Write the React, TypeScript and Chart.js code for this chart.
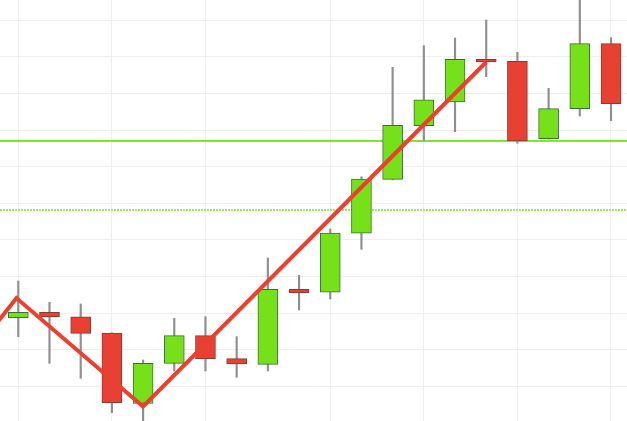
import React, { useEffect, useRef } from "react";
import { Chart, registerables } from "chart.js";

Chart.register(...registerables);

// candle index positions
const candleIdx = [0, 1, 2, 3, 4, 5, 6, 7, 8, 9, 10, 11, 12, 13, 14, 15, 16, 17, 18, 19];
const opens = [118.81, 120.28, 119.08, 114.64, 95.46, 106.37, 113.9, 107.63, 106.1, 126.55, 125.74, 141.83, 156.55, 171.17, 177.64, 189.28, 188.73, 167.63, 175.81, 193.54];
const highs = [128.82, 123.01, 122.55, 114.7, 107.27, 118.65, 119.08, 113.63, 135.09, 130.37, 143.0, 157.26, 187.1, 192.99, 195.09, 200.0, 191.19, 181.37, 206.5, 195.17];
const lows = [113.63, 106.37, 102.28, 92.9, 90.5, 104.27, 104.27, 102.55, 104.27, 120.91, 123.91, 137.46, 156.4, 167.08, 169.54, 184.54, 166.37, 167.5, 173.82, 172.54];
const closes = [120.28, 119.08, 114.55, 95.63, 106.37, 113.9, 107.63, 106.18, 126.55, 125.63, 141.91, 156.64, 171.28, 178.26, 189.28, 188.55, 167.0, 175.81, 193.54, 177.17];

// zig-zag trend line
const trendX = [-1, -0.06, 4, 15];
const trendY = [113.95, 124.18, 94.6, 188.55];

// horizontal levels
const solidLevel = 167.0;
const dottedLevel = 148.18;

// axis ranges and grid positions
const xMin = -0.5866;
const xMax = 19.513;
const yMin = 90.636;
const yMax = 205.455;
const gridX = [0, 3, 6, 10, 13, 16, 19];
const gridYStep = 10;

const GREEN = "#76e01a";
const GREEN_BORDER = "#3f6d37";
const RED = "#e84032";
const RED_BORDER = "#8a3b33";

export default function App() {
  const ref = useRef<HTMLCanvasElement | null>(null);

  useEffect(() => {
    document.body.style.margin = "0";
    const canvas = ref.current;
    if (!canvas) return;
    const up = opens.map((o, i) => closes[i] >= o);
    const chart = new Chart(canvas, {
      type: "bar",
      data: {
        datasets: [
          {
            type: "line",
            data: [
              { x: xMin, y: solidLevel },
              { x: xMax, y: solidLevel },
            ],
            borderColor: "#7fe62b",
            borderWidth: 2,
            pointRadius: 0,
            order: 5,
          } as any,
          {
            type: "line",
            data: [
              { x: xMin, y: dottedLevel },
              { x: xMax, y: dottedLevel },
            ],
            borderColor: "#98ea62",
            borderWidth: 2,
            borderDash: [2, 1],
            pointRadius: 0,
            order: 4,
          } as any,
          {
            type: "bar",
            data: candleIdx.map((x, i) => ({ x, y: [lows[i], highs[i]] })),
            backgroundColor: "#8f8f8f",
            borderWidth: 0,
            barThickness: 1.5,
            grouped: false,
            order: 3,
          } as any,
          {
            type: "bar",
            data: candleIdx.map((x, i) => ({ x, y: [opens[i], closes[i]] })),
            backgroundColor: up.map((u) => (u ? GREEN : RED)),
            borderColor: up.map((u) => (u ? GREEN_BORDER : RED_BORDER)),
            borderWidth: 1,
            borderSkipped: false,
            barThickness: 20,
            grouped: false,
            order: 2,
          } as any,
          {
            type: "line",
            data: trendX.map((x, i) => ({ x, y: trendY[i] })),
            borderColor: "#e8412f",
            borderWidth: 4,
            pointRadius: 0,
            tension: 0,
            order: 1,
          } as any,
        ],
      },
      options: {
        animation: false,
        responsive: false,
        layout: { padding: 0 },
        plugins: {
          legend: { display: false },
          tooltip: { enabled: false },
        },
        scales: {
          x: {
            type: "linear",
            min: xMin,
            max: xMax,
            offset: false,
            afterBuildTicks: (scale: any) => {
              scale.ticks = gridX.map((v) => ({ value: v }));
            },
            ticks: { display: false },
            grid: { color: "#efefef", lineWidth: 1, drawTicks: false, offset: false },
            border: { display: false },
          },
          y: {
            type: "linear",
            min: yMin,
            max: yMax,
            ticks: { display: false, stepSize: gridYStep, includeBounds: false },
            grid: { color: "#efefef", lineWidth: 1, drawTicks: false },
            border: { display: false },
          },
        },
      } as any,
    });
    return () => chart.destroy();
  }, []);

  return (
    <div style={{ position: "absolute", left: 0, top: 0, width: 627, height: 421, background: "#fff" }}>
      <canvas ref={ref} width={627} height={421} style={{ display: "block" }} />
    </div>
  );
}
